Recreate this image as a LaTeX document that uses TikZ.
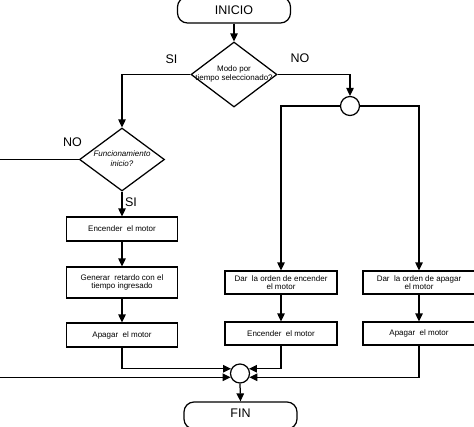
\documentclass[tikz,border=0pt]{standalone}
\usepackage{fontspec}
\setmainfont{Liberation Sans}
\usetikzlibrary{shapes.geometric,arrows.meta}
\begin{document}
\begin{tikzpicture}[x=1pt,y=-1pt, line width=1.25pt,
  box/.style={draw, rectangle, minimum width=111pt, inner sep=0pt, font=\fontsize{8}{8.5}\selectfont, align=center},
  term/.style={draw, rectangle, rounded corners=10pt, minimum width=113pt, inner sep=0pt, font=\fontsize{12.5}{14}\selectfont, text height=9pt, text depth=0pt},
  dec/.style={draw, diamond, inner sep=0pt},
  junc/.style={draw, circle, minimum size=19pt, inner sep=0pt},
  lbl/.style={font=\fontsize{12.5}{14}\selectfont, inner sep=0pt},
  arr/.style={-{Triangle[length=8pt,width=7.5pt]}},
]
\useasboundingbox (0,0) rectangle (474,426);
\clip (0,0) rectangle (474,426);

% terminals
\node[term, minimum height=26pt] (ini) at (234,10) {INICIO};
\node[term, minimum height=27pt, text depth=5.5pt] (fin) at (240.5,415.5) {FIN};

% decisions
\node[dec, minimum width=86pt, minimum height=65pt, font=\fontsize{8}{8.5}\selectfont] (d1) at (234,74.5)
  {\raisebox{3pt}{\makebox[0pt]{\begin{tabular}{@{}c@{}}Modo por\\tiempo seleccionado?\end{tabular}}}};
\node[dec, minimum width=85pt, minimum height=63pt, font=\fontsize{8}{10}\selectfont\itshape] (d2) at (122,159.5)
  {\makebox[0pt]{\begin{tabular}{@{}c@{}}Funcionamiento\\inicio?\end{tabular}}};

% junctions
\node[junc] (c1) at (350,106) {};
\node[junc] (c2) at (240,373.5) {};

% process boxes
\node[box, minimum height=24pt] (b1) at (122,229) {Encender\ \ el motor};
\node[box, minimum height=31pt] (b2) at (122,282.5) {Generar\ \ retardo con el\\tiempo ingresado};
\node[box, minimum height=24pt] (b3) at (122,335) {Apagar\ \ el motor};
\node[box, minimum width=112pt, minimum height=23pt] (m1) at (281,282.5) {Dar\ \ la orden de encender\\el motor};
\node[box, minimum width=112pt, minimum height=23pt] (m2) at (281,333.5) {Encender\ \ el motor};
\node[box, minimum width=112pt, minimum height=23pt] (r1) at (419,282.5) {Dar\ \ la orden de apagar\\el motor};
\node[box, minimum width=112pt, minimum height=23pt] (r2) at (419,333.5) {Apagar\ \ el motor};

% labels
\node[lbl] (si1) at (171.5,59) {SI};
\node[lbl] (no1) at (300,58.5) {NO};
\node[lbl] (no2) at (72.5,142) {NO};
\node[lbl] (si2) at (131,202) {SI};

\coordinate (lft) at (-4,159.5);

% connectors
\draw[arr] (ini.south) -- (d1.north);
\draw[arr] (d1.west) -| (d2.north);
\draw[arr] (d1.east) -| (c1.north);
\draw[arr] (c1.west) -| (m1.north);
\draw[arr] (c1.east) -| (r1.north);
\draw[arr] (d2.south) -- (b1.north);
\draw[arr] (b1.south) -- (b2.north);
\draw[arr] (b2.south) -- (b3.north);
\draw[arr] (m1.south) -- (m2.north);
\draw[arr] (r1.south) -- (r2.north);
\draw[arr] (b3.south) |- (c2.152);
\draw[arr] (m2.south) |- (c2.28);
\draw[arr] (r2.south) |- (c2.338);
\draw[arr] (d2.west) -- (lft) |- (c2.202);
\draw[arr] (c2.south) -- (fin.north);
\end{tikzpicture}
\end{document}
